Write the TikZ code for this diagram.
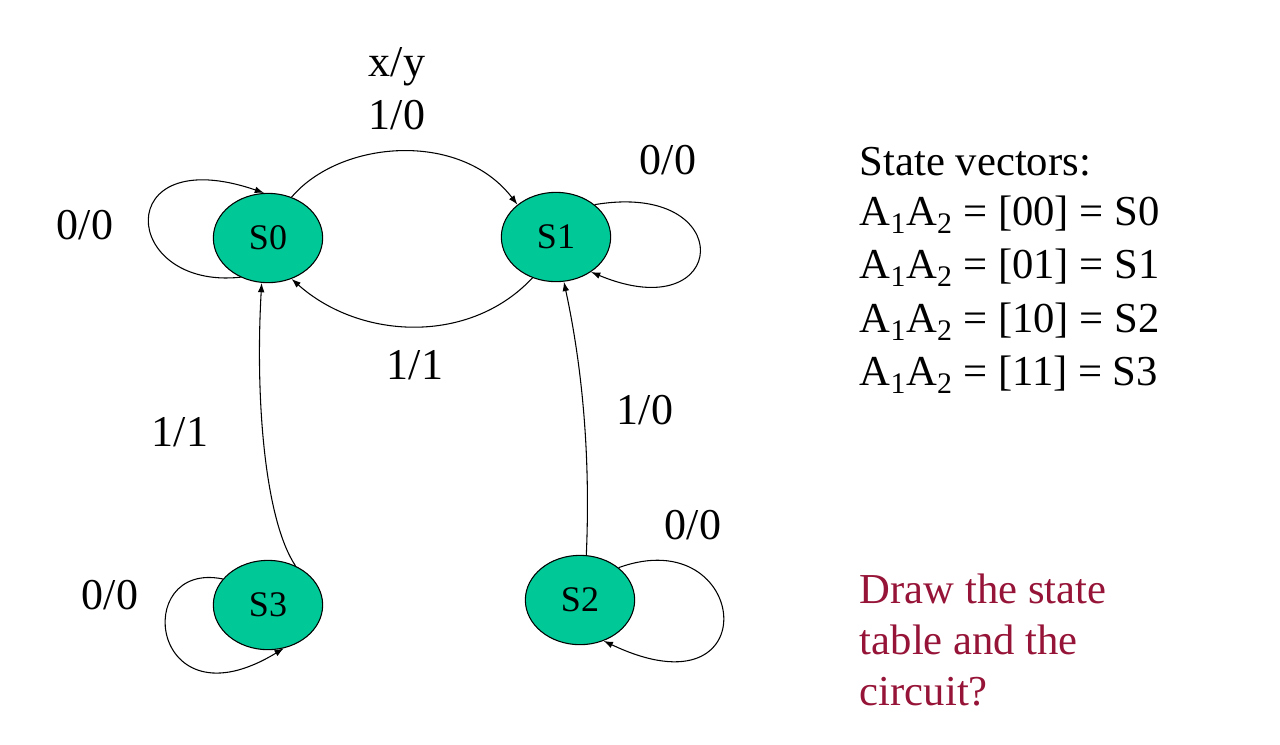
\documentclass[tikz,border=0pt]{standalone}
\usepackage{fontspec}
\setmainfont{Liberation Serif}
\usetikzlibrary{positioning,arrows.meta,shapes.geometric}
\definecolor{stategreen}{RGB}{0,200,150}
\definecolor{askred}{RGB}{150,20,55}
\begin{document}
\begin{tikzpicture}[x=0.75pt,y=-0.75pt, inner sep=1pt, >={Latex[length=7pt,width=5pt]},
   every path/.style={line width=0.8pt},
   state/.style={ellipse, draw, fill=stategreen, minimum width=82, minimum height=67, font=\fontsize{27}{30}\selectfont},
   lbl/.style={font=\fontsize{33}{36}\selectfont},
   txt/.style={anchor=west, font=\fontsize{32}{38}\selectfont}
   ]
   \useasboundingbox (0,0) rectangle (1280,744);

   \node[state] (S0) at (268,238) {S0};
   \node[state] (S1) at (556,237) {S1};
   \node[state] (S3) at (268,605) {S3};
   \node[state] (S2) at (580,600) {S2};

   \path (397,67) node[lbl] (xy) {x/y}
   (397,115) node[lbl] (l01) {1/0}
   (415,365) node[lbl] (l10) {1/1}
   (85,225) node[lbl] (l00a) {0/0}
   (668,160) node[lbl] (l11a) {0/0}
   (180,432) node[lbl] (l30) {1/1}
   (645,410) node[lbl] (l21) {1/0}
   (110,595) node[lbl] (l33) {0/0}
   (693,525) node[lbl] (l22) {0/0};

   \draw[->] (S0.60) .. controls (340,140) and (460,130) .. (S1.140);
   \draw[->] (S1.240) .. controls (470,345) and (360,340) .. (S0.300);
   \draw[->] (S0.235) .. controls (120,290) and (110,140) .. (S0.95);
   \draw[->] (S1.40) .. controls (740,180) and (730,330) .. (S1.315);
   \draw[->] (S3.55) .. controls (265,520) and (255,400) .. (S0.262);
   \draw[->] (S2.82) .. controls (590,470) and (585,380) .. (S1.280);
   \draw[->] (S3.150) .. controls (130,560) and (150,730) .. (S3.290);
   \draw[->] (S2.40) .. controls (750,520) and (770,720) .. (S2.300);

   \node[txt] (vec) at (858,162) {State vectors:};
   \node[txt] (v0) at (858,215) {A\textsubscript{1}A\textsubscript{2} = [00] = S0};
   \node[txt] (v1) at (858,268) {A\textsubscript{1}A\textsubscript{2} = [01] = S1};
   \node[txt] (v2) at (858,322) {A\textsubscript{1}A\textsubscript{2} = [10] = S2};
   \node[txt] (v3) at (858,375) {A\textsubscript{1}A\textsubscript{2} = [11] = S3};

   \node[txt, text=askred, align=left] (ask) at (858,640) {Draw the state\\table and the\\circuit?};
\end{tikzpicture}
\end{document}
